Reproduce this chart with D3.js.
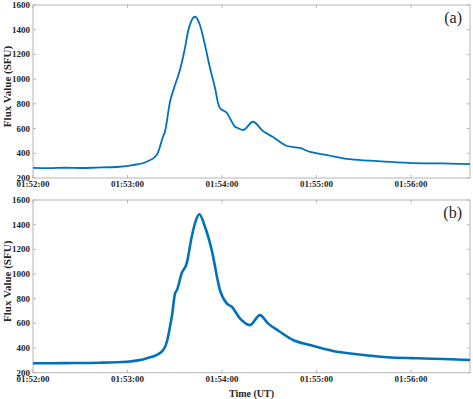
<!DOCTYPE html>
<html>
<head>
<meta charset="utf-8">
<script src="https://d3js.org/d3.v7.min.js"></script>
<style>
  body { margin: 0; background: #fff; }
  svg text { font-family: "Liberation Serif", "Times New Roman", serif; }
</style>
</head>
<body>
<div id="chart"></div>
<script>
// seconds after 01:52:00 and flux (SFU)
var timeA = [0, 10, 20, 30, 40, 55, 63.5, 72.2, 78.6, 82.5, 83.8, 87, 90.2, 93.3, 96.5, 98.4, 100.8, 102.9, 106, 109.2, 112.4, 115.6, 117.5, 118.7, 123.2, 125, 128.3, 130, 133.4, 139.7, 146, 152.4, 161.3, 169.5, 176, 186.7, 199.4, 214, 231, 248, 265, 277.5]
var fluxA = [282, 280, 283, 281, 284, 291, 305, 332, 386, 532, 575, 817, 952, 1074, 1252, 1384, 1478, 1505, 1438, 1276, 1090, 928, 807, 766, 726, 685, 615, 605, 588, 655, 580, 532, 459, 443, 411, 386, 354, 340, 327, 319, 317, 313]

var timeB = [0, 20, 42.5, 59.7, 72.4, 81.7, 85, 87, 88.3, 90.2, 91.4, 94.4, 97.6, 100.8, 103.5, 105.6, 109.2, 113.5, 118.7, 123, 126.2, 131.4, 137.8, 144.1, 149.2, 156.8, 165.1, 175.9, 190.5, 205.7, 224.8, 243.8, 260.4, 277.5]
var fluxB = [276, 278, 281, 289, 317, 370, 451, 573, 667, 843, 870, 1005, 1086, 1302, 1437, 1485, 1383, 1194, 870, 762, 735, 640, 586, 667, 600, 532, 465, 424, 376, 349, 325, 317, 311, 303]

var yTicks = [200, 400, 600, 800, 1000, 1200, 1400, 1600]
var xTicks = [0, 60, 120, 180, 240]
var xTickLabels = ['01:52:00', '01:53:00', '01:54:00', '01:55:00', '01:56:00']
var panelLabels = ['(a)', '(b)']

var W = 473, H = 399
var left = 33, right = 470
var blue = '#0072BD'
var axisGray = '#b5b5b5'

var svg = d3.select('#chart').append('svg')
    .attr('width', W)
    .attr('height', H)

var x = d3.scaleLinear().domain([0, 277.5]).range([left, right])

var panels = [
    {top: 5, bottom: 178, t: timeA, v: fluxA, width: 1.8},
    {top: 200, bottom: 372.7, t: timeB, v: fluxB, width: 2.6}
]

panels.forEach(function(p, i) {
    var y = d3.scaleLinear().domain([200, 1600]).range([p.bottom, p.top])
    var g = svg.append('g')

    // box
    g.append('rect')
        .attr('x', left).attr('y', p.top)
        .attr('width', right - left).attr('height', p.bottom - p.top)
        .attr('fill', 'none').attr('stroke', axisGray).attr('stroke-width', 1)

    // inward ticks on all four sides
    xTicks.forEach(function(t) {
        g.append('line').attr('x1', x(t)).attr('x2', x(t)).attr('y1', p.bottom).attr('y2', p.bottom - 3).attr('stroke', axisGray)
        g.append('line').attr('x1', x(t)).attr('x2', x(t)).attr('y1', p.top).attr('y2', p.top + 3).attr('stroke', axisGray)
    })
    yTicks.forEach(function(v) {
        g.append('line').attr('x1', left).attr('x2', left + 3).attr('y1', y(v)).attr('y2', y(v)).attr('stroke', axisGray)
        g.append('line').attr('x1', right).attr('x2', right - 3).attr('y1', y(v)).attr('y2', y(v)).attr('stroke', axisGray)
    })

    // tick labels
    g.selectAll('.ylab').data(yTicks).enter().append('text')
        .attr('x', left - 3).attr('y', function(d) { return y(d) + 3 })
        .attr('text-anchor', 'end')
        .attr('font-size', 9).attr('font-weight', 'bold').attr('fill', '#262626')
        .text(function(d) { return d })
    g.selectAll('.xlab').data(xTicks).enter().append('text')
        .attr('x', function(d) { return x(d) })
        .attr('y', p.bottom + 9)
        .attr('text-anchor', 'middle')
        .attr('font-size', 9).attr('font-weight', 'bold').attr('fill', '#262626')
        .text(function(d, j) { return xTickLabels[j] })

    // y label
    var cy = (p.top + p.bottom) / 2 - 5
    g.append('text')
        .attr('transform', 'translate(11,' + cy + ') rotate(-90)')
        .attr('text-anchor', 'middle')
        .attr('font-size', 11).attr('font-weight', 'bold').attr('fill', '#262626')
        .text('Flux Value (SFU)')

    // panel tag
    g.append('text')
        .attr('x', 462).attr('y', p.top + 18)
        .attr('text-anchor', 'end')
        .attr('font-size', 16).attr('fill', '#262626')
        .text(panelLabels[i])

    var line = d3.line()
        .x(function(d, j) { return x(p.t[j]) })
        .y(function(d) { return y(d) })
        .curve(d3.curveMonotoneX)

    g.append('path')
        .datum(p.v)
        .attr('d', line)
        .attr('fill', 'none')
        .attr('stroke', blue)
        .attr('stroke-width', p.width)
        .attr('stroke-linejoin', 'round')
})

svg.append('text')
    .attr('x', (left + right) / 2).attr('y', 397)
    .attr('text-anchor', 'middle')
    .attr('font-size', 10).attr('font-weight', 'bold').attr('fill', '#262626')
    .text('Time (UT)')
</script>
</body>
</html>
